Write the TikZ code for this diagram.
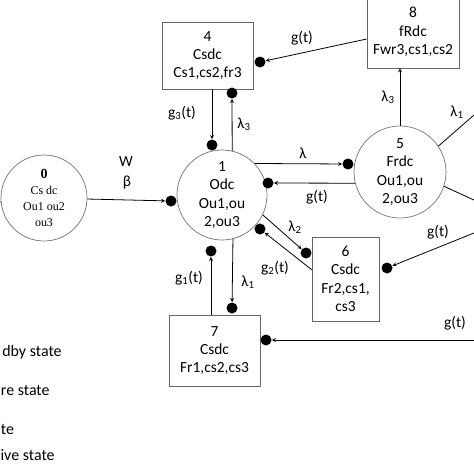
\documentclass[tikz,border=0pt]{standalone}
\usepackage{fontspec}
\setmainfont{Carlito}
\newfontfamily\timesfont{Liberation Serif}
\usepackage{tikz}
\usetikzlibrary{arrows,shapes}

\tikzset{
  every node/.style={font=\fontsize{15.5}{18.5}\selectfont},
  state/.style={draw=black!55,line width=0.7pt,circle,align=center,inner sep=0pt},
  statebox/.style={draw=black!60,line width=0.7pt,rectangle,align=center,inner sep=0pt},
  dot/.style={circle,fill=black,inner sep=0pt,minimum size=11bp},
  lbl/.style={inner sep=1pt},
  key/.style={inner sep=0pt,font=\fontsize{16}{19}\selectfont}
}

\begin{document}
\begin{tikzpicture}[>=stealth,line width=0.8pt]
\clip (0bp,0bp) rectangle (474bp,-474bp);

\node (S0) at (44bp,-198bp)[state,minimum size=86bp,font=\timesfont\fontsize{12}{16}\selectfont] {{\fontsize{14}{16}\selectfont\textbf{0}}\\Cs dc\\Ou1 ou2\\ou3};
\node (S1) at (222bp,-195bp)[state,minimum size=90bp] {1\\Odc\\Ou1,ou\\2,ou3};
\node (S5) at (400bp,-172bp)[state,minimum size=92bp] {5\\Frdc\\Ou1,ou\\2,ou3};
\node (S4) at (207.5bp,-55.5bp)[statebox,minimum width=91bp,minimum height=67bp] {4\\Csdc\\Cs1,cs2,fr3};
\node (S8) at (413bp,-32bp)[statebox,minimum width=92bp,minimum height=72bp] {8\\fRdc\\Fwr3,cs1,cs2};
\node (S6) at (345.5bp,-279bp)[statebox,minimum width=67bp,minimum height=84bp] {6\\Csdc\\Fr2,cs1,\\cs3};
\node (S7) at (214.5bp,-350.5bp)[statebox,minimum width=91bp,minimum height=71bp] {7\\Csdc\\Fr1,cs2,cs3};

\node (D01) at (171bp,-201bp)[dot] {};
\node (D1t) at (212bp,-145bp)[dot] {};
\node (D4b) at (232bp,-93bp)[dot] {};
\node (D4r) at (260bp,-62bp)[dot] {};
\node (D5l) at (348bp,-164bp)[dot] {};
\node (D1r) at (268bp,-183bp)[dot] {};
\node (D6) at (306bp,-253bp)[dot] {};
\node (D1d) at (260bp,-229bp)[dot] {};
\node (D6r) at (387bp,-268bp)[dot] {};
\node (D1b) at (211bp,-251bp)[dot] {};
\node (D7t) at (232bp,-308bp)[dot] {};
\node (D7r) at (266bp,-340bp)[dot] {};

\coordinate (L0) at (0bp,-202bp);
\coordinate (R5a) at (474bp,-115bp);
\coordinate (R5b) at (474bp,-200bp);
\coordinate (R6) at (474bp,-233bp);
\coordinate (R7) at (474bp,-340bp);

\draw (L0) -- (S0);
\draw [->] (S0) -- (D01);
\draw [->] (S4.south -| D1t) -- (D1t);
\draw [->] (S1.77) -- (D4b);
\draw [->] ([yshift=-7bp]S8.west) -- (D4r);
\draw [->] (S5.north) -- (S5.north |- S8.south);
\draw [->] (S1.44) -- (D5l);
\draw [->] (S5.194) -- (D1r);
\draw [->] (S1.-26) -- (D6);
\draw [->] ([yshift=-33bp]S6.north west) -- (D1d);
\draw [->] (R6) -- (D6r);
\draw (S5.34) -- (R5a);
\draw (S5.-18) -- (R5b);
\draw [->] (S7.north -| D1b) -- (D1b);
\draw [->] (S1.-76) -- (D7t);
\draw [->] (R7) -- (D7r);

% rates
\node (LW) at (126bp,-162bp)[lbl] {W};
\node (Lb) at (127bp,-183bp)[lbl] {β};
\node (Lg4) at (302bp,-38bp)[lbl] {g(t)};
\node (Lg3) at (182bp,-113bp)[lbl] {g\textsubscript{3}(t)};
\node (Ll3) at (244bp,-124bp)[lbl] {λ\textsubscript{3}};
\node (Ll38) at (388bp,-97bp)[lbl] {λ\textsubscript{3}};
\node (Ll15) at (457bp,-112bp)[lbl] {λ\textsubscript{1}};
\node (Ll) at (303bp,-153bp)[lbl] {λ};
\node (Lg5) at (317bp,-197bp)[lbl] {g(t)};
\node (Ll2) at (295bp,-227bp)[lbl] {λ\textsubscript{2}};
\node (Lg2) at (275bp,-268bp)[lbl] {g\textsubscript{2}(t)};
\node (Lg6) at (438bp,-232bp)[lbl] {g(t)};
\node (Lg1) at (189bp,-278bp)[lbl] {g\textsubscript{1}(t)};
\node (Ll1) at (248bp,-282bp)[lbl] {λ\textsubscript{1}};
\node (Lg7) at (455bp,-323bp)[lbl] {g(t)};

% legend
\node (K1) at (62bp,-352bp)[key,anchor=east] {dby state};
\node (K2) at (0.5bp,-391bp)[key,anchor=west] {re state};
\node (K3) at (0.5bp,-430bp)[key,anchor=west] {te};
\node (K4) at (55bp,-455bp)[key,anchor=east] {ive state};
\end{tikzpicture}
\end{document}
